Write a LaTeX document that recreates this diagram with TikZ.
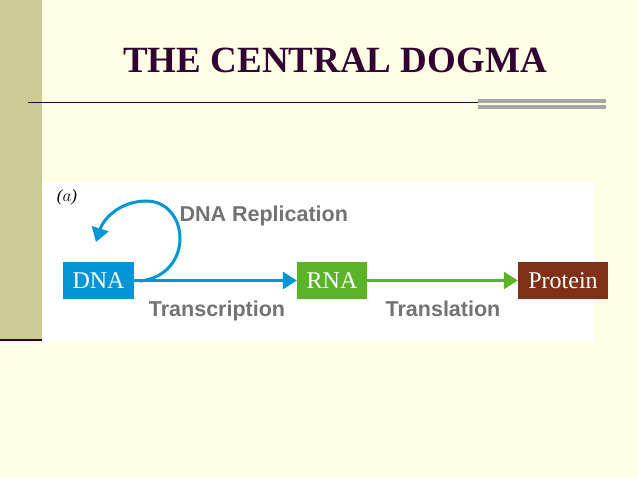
\documentclass[tikz,border=0pt]{standalone}
\usepackage{fontspec}
\setmainfont{Liberation Serif}
\newfontfamily\sansf{Liberation Sans}
\usetikzlibrary{arrows.meta}
\definecolor{cream}{RGB}{255,255,230}
\definecolor{band}{RGB}{204,204,153}
\definecolor{ttl}{RGB}{51,0,51}
\definecolor{dnab}{RGB}{0,150,214}
\definecolor{rnag}{RGB}{90,180,40}
\definecolor{protb}{RGB}{128,48,20}
\definecolor{lab}{RGB}{115,115,115}
\begin{document}
\begin{tikzpicture}[x=1pt,y=-1pt,
  box/.style={minimum height=37pt,inner sep=0pt,text=white,font=\fontsize{24}{26}\selectfont},
  lbl/.style={text=lab,font=\sansf\bfseries\fontsize{21.5}{24}\selectfont},
  arr/.style={line width=3pt,-{Triangle[length=14pt,width=17pt]}}]
\useasboundingbox (0,0) rectangle (638,478);
\fill[cream] (0,0) rectangle (638,478);
\fill[band] (0,0) rectangle (42,340);
\draw[ttl,line width=1.5pt] (0,340) -- (42,340);
\node[text=ttl,font=\bfseries\fontsize{37}{40}\selectfont] (title) at (335,60) {THE CENTRAL DOGMA};
\draw[ttl,line width=1pt] (28,103) -- (478,103);
\fill[gray!70] (478,99) rectangle (606,103);
\fill[gray!70] (478,105.5) rectangle (606,109);
\fill[white] (42,182) rectangle (594,342);
\node[font=\itshape\fontsize{17}{19}\selectfont] (a) at (67,197) {($a$)};
\node[box,fill=dnab,minimum width=71pt] (dna) at (98.5,280.5) {DNA};
\node[box,fill=rnag,minimum width=70pt] (rna) at (332,280.5) {RNA};
\node[box,fill=protb,minimum width=90pt] (prot) at (563,280.5) {Protein};
\draw[arr,dnab] (dna) -- (rna);
\draw[arr,rnag] (rna) -- (prot);
\coordinate (ls) at (140,281);
\coordinate (le) at (96,242);
\draw[dnab,line width=3pt,-{Triangle[length=14pt,width=17pt]}] (ls) .. controls (195,275) and (190,200) .. (145,201) .. controls (118,202) and (103,220) .. (le);
\node[lbl,anchor=base west] (rep) at (176,222) {DNA Replication};
\node[lbl,anchor=base] (tc) at (217,317) {Transcription};
\node[lbl,anchor=base] (tl) at (443,317) {Translation};
\end{tikzpicture}
\end{document}
